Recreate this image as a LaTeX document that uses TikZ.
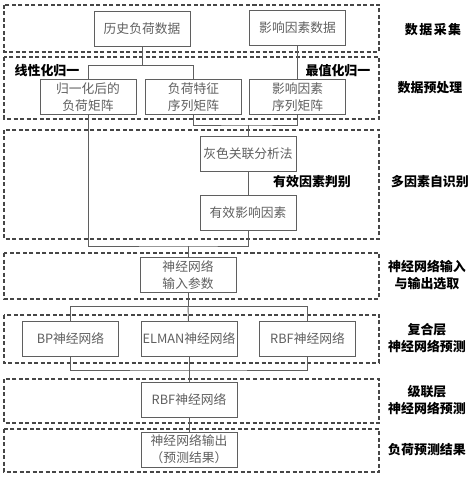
\documentclass[tikz,border=0pt]{standalone}
\usepackage{fontspec}
\newfontfamily\cjk{Noto Sans CJK SC}
\usetikzlibrary{positioning}
\definecolor{boxgray}{RGB}{95,95,95}
\definecolor{zonegray}{RGB}{70,70,70}

\begin{document}
\begin{tikzpicture}[x=1bp,y=-1bp,
  blk/.style={draw=boxgray,line width=0.9bp,minimum width=96bp,minimum height=35bp,
    inner sep=1bp,align=center,text=boxgray,font=\cjk\fontsize{12.8}{17}\selectfont},
  zone/.style={draw=zonegray,line width=1.2bp,dash pattern=on 4bp off 2.5bp},
  tag/.style={align=center,font=\cjk\bfseries\fontsize{13}{17}\selectfont},
  link/.style={draw=boxgray,line width=0.9bp}]
  \useasboundingbox (0,0) rectangle (474,479);
  % dashed stages
  \draw[zone] (4,5) rectangle (379,52);
  \draw[zone] (4,57) rectangle (379,119);
  \draw[zone] (4,130) rectangle (379,239);
  \draw[zone] (4,253) rectangle (379,299);
  \draw[zone] (4,315) rectangle (379,363);
  \draw[zone] (4,379) rectangle (379,423);
  \draw[zone] (4,429) rectangle (379,472);
  % stage names
  \node[tag] (tcollect) at (433,30) {数\hspace{1.5bp}据\hspace{1.5bp}采\hspace{1.5bp}集};
  \node[tag] (tprep) at (430,88) {数据预处理};
  \node[tag] (tident) at (430,182) {多因素自识别};
  \node[tag] (tinput) at (427,275) {神经网络输入\\与输出选取};
  \node[tag] (tcomp) at (427,338) {复合层\\神经网络预测};
  \node[tag] (tcasc) at (427,400) {级联层\\神经网络预测};
  \node[tag] (tresult) at (427,450) {负荷预测结果};
  \node[tag] (tlin) at (47,71) {线性化归一};
  \node[tag] (tmax) at (338,71) {最值化归一};
  \node[tag] (tvalid) at (312,182) {有效因素判别};
  % data
  \node[blk] (hist) at (142,29) {历史负荷数据};
  \node[blk] (infl) at (297.5,28) {影响因素数据};
  % preprocessing
  \node[blk] (norm) at (88,97) {归一化后的\\负荷矩阵};
  \node[blk] (feat) at (193.5,97) {负荷特征\\序列矩阵};
  \node[blk] (inflm) at (297.5,97) {影响因素\\序列矩阵};
  % factor identification
  \node[blk] (grey) at (248,154) {灰色关联分析法};
  \node[blk] (eff) at (248,212.5) {有效影响因素};
  % networks
  \node[blk] (nnin) at (188,275) {神经网络\\输入参数};
  \node[blk] (bp) at (70.5,339) {BP神经网络};
  \node[blk] (elman) at (189,339) {ELMAN神经网络};
  \node[blk] (rbf) at (307.5,339) {RBF神经网络};
  \node[blk] (casc) at (189,400) {RBF神经网络};
  \node[blk] (nnout) at (189,449.5) {神经网络输出\\（预测结果）};
  % junctions
  \coordinate (j1) at (142,65);
  \coordinate (j2) at (248,125);
  \coordinate (j3) at (188,246);
  \coordinate (j4) at (188,306);
  \coordinate (j5) at (188,370);
  % connectors
  \draw[link] (hist) -- (j1) -| (norm);
  \draw[link] (j1) -| (feat);
  \draw[link] (infl) -- (inflm);
  \draw[link] (feat) |- (j2) -| (inflm);
  \draw[link] (j2) -- (grey);
  \draw[link] (grey) -- (eff);
  \draw[link] (norm) |- (j3) -| (eff);
  \draw[link] (j3) -- (nnin);
  \draw[link] (nnin) -- (j4) -| (bp);
  \draw[link] (j4) -| (rbf);
  \draw[link] (j4) -- (elman);
  \draw[link] (bp) |- (j5) -| (rbf);
  \draw[link] (elman) -- (casc);
  \draw[link] (casc) -- (nnout);
\end{tikzpicture}
\end{document}
